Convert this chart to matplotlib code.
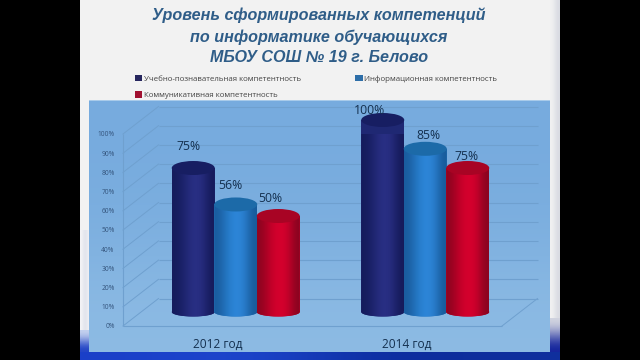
import numpy as np
import matplotlib
matplotlib.use("Agg")
import matplotlib.pyplot as plt
from matplotlib.patches import Rectangle, Ellipse, Patch
from matplotlib.path import Path
from matplotlib.transforms import Affine2D, IdentityTransform
from matplotlib.colors import to_rgb

plt.rcParams['font.family'] = ['Open Sans', 'DejaVu Sans']

# ---- data ----
categories = ["2012 год", "2014 год"]
series_names = ["Учебно-познавательная компетентность",
                "Информационная компетентность",
                "Коммуникативная компетентность"]
cognitive = [75, 100]
information = [56, 85]
communicative = [50, 75]
y_ticks = [0, 10, 20, 30, 40, 50, 60, 70, 80, 90, 100]
title_lines = "Уровень сформированных компетенций\nпо информатике обучающихся\nМБОУ СОШ № 19 г. Белово"

W, H = 640, 360
fig = plt.figure(figsize=(6.4, 3.6), dpi=100, facecolor="black")

def px_axes(l, t, r, b):
    return [l / W, 1 - b / H, (r - l) / W, (b - t) / H]

# ---- slide background (pixel space) ----
bg = fig.add_axes([0, 0, 1, 1], zorder=0)
bg.set_xlim(0, W); bg.set_ylim(H, 0); bg.axis("off")
def grad(ax, colors, extent, horizontal=False, z=1):
    c = np.array([to_rgb(k) for k in colors])
    arr = c[None, :, :] if horizontal else c[:, None, :]
    return ax.imshow(arr, extent=extent, aspect="auto", interpolation="bicubic", zorder=z)
bg.add_patch(Rectangle((80, 0), 480, 360, fc="#F2F2F2", ec="none", zorder=1))
grad(bg, ["#F4F4F6", "#DCDFEA", "#F0F0F4"], (80, 90, 352, 230), horizontal=True, z=2)
grad(bg, ["#C9D6F0", "#1C3FC4"], (80, 90, 352, 330), z=3)
grad(bg, ["#F2F2F2", "#D8DAE2"], (550, 560, 320, 0), horizontal=True, z=2)
grad(bg, ["#D8DAE2", "#0E1F9A"], (550, 560, 352, 318), z=3)
grad(bg, ["#1A3FC8", "#1F48D0", "#0A2A9A", "#10309E"], (80, 560, 360, 352), horizontal=True, z=3)
grad(bg, ["#77ABDE", "#7BAEDF", "#8DBBE4"], (89, 550, 352, 100), z=4)
bg.add_patch(Rectangle((89, 100), 461, 1.2, fc="#A9CBEA", ec="none", zorder=5))
bg.set_xlim(0, W); bg.set_ylim(H, 0)

# ---- title ----
bg.text(319, 36.5, title_lines, ha="center", va="center", fontsize=11.6, fontweight="bold",
        fontstyle="italic", color="#2F5D88", linespacing=1.47, zorder=6,
        family=["Liberation Sans", "DejaVu Sans"])

# ---- chart axes: front plane of the 3D box ----
ax = fig.add_axes(px_axes(123, 134, 502, 326), zorder=1)
ax.patch.set_alpha(0)
for s in ax.spines.values():
    s.set_visible(False)
ax.set_xlim(-0.5, 1.5)
ax.set_ylim(0, 100)

GRID = "#6FA0CF"
back = ax.transData + Affine2D().translate(35.5, 27.5)
mid = ax.transData + Affine2D().translate(18, 14)
ax.hlines(y_ticks, -0.5, 1.5, colors=GRID, lw=0.8, transform=back, zorder=1, clip_on=False)
for v in y_ticks:
    p0 = ax.transData.transform((-0.5, v))
    p1 = back.transform((-0.5, v))
    ax.plot([p0[0], p1[0]], [p0[1], p1[1]], transform=IdentityTransform(), color=GRID, lw=0.7,
            zorder=1, clip_on=False)
ax.vlines(-0.5, 0, 100, colors=GRID, lw=0.8, zorder=1, clip_on=False)
ax.hlines(0, -0.5, 1.5, colors=GRID, lw=0.8, zorder=1, clip_on=False)
p0 = ax.transData.transform((1.5, 0)); p1 = back.transform((1.5, 0))
ax.plot([p0[0], p1[0]], [p0[1], p1[1]], transform=IdentityTransform(), color=GRID, lw=0.7,
        zorder=1, clip_on=False)

# ---- cylinders ----
width = 43 / 189.5
ell_h = 14 * 100 / 192
base_h = 9 * 100 / 192
styles = [
    (cognitive, ["#151C5C", "#1E2570", "#2A3086", "#272D80", "#151A5A"], "#171E62", "#1F2873", "#26265E"),
    (information, ["#1A5C9E", "#2478C4", "#2E88DC", "#2B80D0", "#175A9A"], "#1C6AA8", "#2478C4", "#2D6EA8"),
    (communicative, ["#8E0420", "#C00028", "#D8002E", "#D0002C", "#8A0420"], "#A80424", "#C8002A", "#A01030"),
]
label_offsets = [[(-5, 22), (-13, 9)], [(-5, 19), (3, 13)], [(-8, 18), (-1, 11)]]
step = 42.5 / 189.5
z = 10
handles = []
for i, (vals, cols, top, base, leg_col) in enumerate(styles):
    for j, v in enumerate(vals):
        x = j + (i - 1) * step
        z += 5
        bars = ax.bar(x, v, width, color=base, transform=mid, zorder=z, clip_on=False)
        ax.add_patch(Ellipse((x, 0), width, base_h, fc=base, ec="none", transform=mid, zorder=z, clip_on=False))
        t = np.linspace(0, np.pi, 40)
        bx = x + width / 2 * np.cos(t)
        by = -base_h / 2 * np.sin(t)
        body = Path(np.r_[np.c_[bx, by], [(x - width/2, v), (x + width/2, v), (x + width/2, 0)]], closed=False)
        c = np.array([to_rgb(k) for k in cols])[None, :, :]
        im = ax.imshow(c, extent=(x - width/2, x + width/2, -base_h, v), aspect="auto",
                       interpolation="bicubic", transform=mid, zorder=z + 1)
        im.set_clip_path(body, mid)
        ax.add_patch(Ellipse((x, v), width, ell_h, fc=top, ec="none", transform=mid, zorder=z + 2, clip_on=False))
        dx, dy = label_offsets[i][j]
        ax.annotate(f"{v}%", (x, v), xycoords=mid, xytext=(dx * 0.72, dy * 0.72), textcoords="offset points",
                    ha="center", va="center", fontsize=8.8, color="#14304F", zorder=100,
                    annotation_clip=False)
    handles.append(Patch(fc=leg_col, ec="none", label=series_names[i]))

ax.set_xlim(-0.5, 1.5)
ax.set_ylim(0, 100)
ax.set_xticks([0, 1], categories)
ax.set_yticks(y_ticks, [f"{v}%" for v in y_ticks])
ax.tick_params(axis="x", length=0, pad=8.5, labelsize=8.6, labelcolor="#14304F")
ax.tick_params(axis="y", length=0, pad=6, labelsize=4.8, labelcolor="#34547C")

# ---- legend ----
leg = ax.legend([handles[0], handles[2], handles[1]],
                [series_names[0], series_names[2], series_names[1]],
                ncol=2, frameon=False, fontsize=5.7, labelcolor="#444444",
                loc="upper left", bbox_to_anchor=(135 / W, 1 - 74.5 / H), bbox_transform=fig.transFigure,
                borderaxespad=0, borderpad=0, handlelength=0.9, handleheight=0.9, handletextpad=0.2,
                columnspacing=6.9, labelspacing=1.1)

fig.savefig("out.png", dpi=100, facecolor="black")
